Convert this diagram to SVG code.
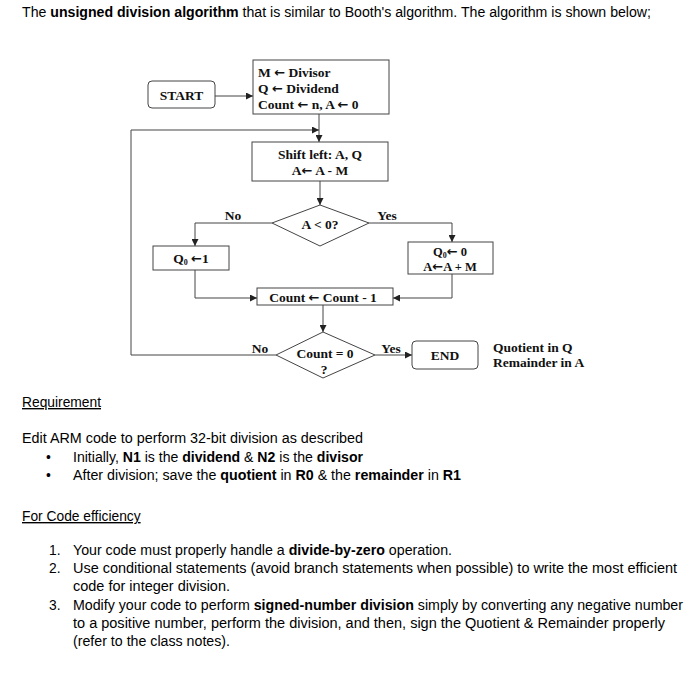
<svg xmlns="http://www.w3.org/2000/svg" width="700" height="700" viewBox="0 0 700 700">
<defs>
<style>
.bg{fill:#fff}
.box{fill:#fff;stroke:#444;stroke-width:1}
.ln{fill:none;stroke:#444;stroke-width:1}
.ft{font-family:"Liberation Serif","Times New Roman",serif;font-weight:bold;font-size:13.5px;fill:#111}
.sm{font-size:12.5px}
.ar{font-family:"DejaVu Sans",sans-serif;font-weight:bold;font-size:13px}
.bt{font-family:"Liberation Sans",Arial,sans-serif;font-size:13.8px;fill:#000}
.b{font-weight:bold}
.u{text-decoration:underline}
</style>
<marker id="ah" viewBox="0 0 10 10" refX="10" refY="5" markerWidth="7" markerHeight="7" orient="auto" markerUnits="userSpaceOnUse">
<path d="M0,0 L10,5 L0,10 z" fill="#222"/>
</marker>
</defs>
<rect class="bg" x="0" y="0" width="700" height="700"/>

<text class="bt" x="22" y="17" textLength="629" lengthAdjust="spacingAndGlyphs">The <tspan class="b">unsigned division algorithm</tspan> that is similar to Booth's algorithm. The algorithm is shown below;</text>

<g id="connectors">
<line class="ln" x1="215" y1="96" x2="253" y2="96" marker-end="url(#ah)"/>
<line class="ln" x1="319" y1="114" x2="319" y2="142" marker-end="url(#ah)"/>
<line class="ln" x1="320" y1="181" x2="320" y2="205" marker-end="url(#ah)"/>
<polyline class="ln" points="272,223 195,223 195,246" marker-end="url(#ah)"/>
<polyline class="ln" points="369,223 452,223 452,242" marker-end="url(#ah)"/>
<polyline class="ln" points="195,270 195,298 257,298" marker-end="url(#ah)"/>
<polyline class="ln" points="452,274 452,298 393,298" marker-end="url(#ah)"/>
<line class="ln" x1="323" y1="305" x2="323" y2="332" marker-end="url(#ah)"/>
<polyline class="ln" points="276,355 131,355 131,130 319,130" marker-end="url(#ah)"/>
<line class="ln" x1="375" y1="355" x2="412" y2="355" marker-end="url(#ah)"/>
<text class="ft" x="233" y="220" text-anchor="middle">No</text>
<text class="ft" x="387" y="220" text-anchor="middle">Yes</text>
<text class="ft" x="260" y="353" text-anchor="middle">No</text>
<text class="ft" x="391" y="353" text-anchor="middle">Yes</text>
</g>

<g id="start">
<rect class="box" x="148" y="81" width="67" height="27" rx="4"/>
<text class="ft" x="181.5" y="99.5" text-anchor="middle">START</text>
</g>

<g id="init">
<rect class="box" x="253" y="60" width="136" height="54"/>
<text class="ft" x="258" y="77">M <tspan class="ar">←</tspan> Divisor</text>
<text class="ft" x="258" y="93">Q <tspan class="ar">←</tspan> Dividend</text>
<text class="ft" x="258" y="109">Count <tspan class="ar">←</tspan> n, A <tspan class="ar">←</tspan> 0</text>
</g>

<g id="shift">
<rect class="box" x="252" y="142" width="136" height="39"/>
<text class="ft" x="320" y="159" text-anchor="middle">Shift left:  A, Q</text>
<text class="ft" x="320" y="175" text-anchor="middle">A<tspan class="ar">←</tspan> A - M</text>
</g>

<g id="decision1">
<polygon class="box" points="320,205 369,223 320,246 272,223"/>
<text class="ft" x="320" y="229" text-anchor="middle">A &lt; 0?</text>
</g>

<g id="q0one">
<rect class="box" x="153" y="246" width="76" height="24"/>
<text class="ft" x="191" y="263" text-anchor="middle">Q<tspan font-size="8" dy="2">0</tspan><tspan dy="-2"> </tspan><tspan class="ar">←</tspan>1</text>
</g>

<g id="q0zero">
<rect class="box" x="408" y="242" width="85" height="32"/>
<text class="ft sm" x="450" y="256" text-anchor="middle">Q<tspan font-size="8" dy="2">0</tspan><tspan class="ar" dy="-2">←</tspan> 0</text>
<text class="ft sm" x="450" y="271" text-anchor="middle">A<tspan class="ar">←</tspan>A + M</text>
</g>

<g id="count">
<rect class="box" x="257" y="288" width="136" height="17"/>
<text class="ft" x="323" y="301.5" text-anchor="middle">Count <tspan class="ar">←</tspan>  Count - 1</text>
</g>

<g id="decision2">
<polygon class="box" points="323,332 375,355 323,378 276,355"/>
<text class="ft" x="325" y="358" text-anchor="middle">Count = 0</text>
<text class="ft" x="324" y="374" text-anchor="middle">?</text>
</g>

<g id="end">
<rect class="box" x="412" y="341" width="66" height="28" rx="4"/>
<text class="ft" x="445" y="360" text-anchor="middle">END</text>
</g>

<g id="note">
<text class="ft" x="493" y="352">Quotient in Q</text>
<text class="ft" x="493" y="367">Remainder in A</text>
</g>

<g id="body">
<text class="bt u" x="22" y="407">Requirement</text>
<text class="bt" x="22" y="443" textLength="341" lengthAdjust="spacingAndGlyphs">Edit ARM code to perform 32-bit division as described</text>
<text class="bt" x="46" y="462">•</text>
<text class="bt" x="73" y="462" textLength="290" lengthAdjust="spacingAndGlyphs">Initially, <tspan class="b">N1</tspan> is the <tspan class="b">dividend</tspan> &amp; <tspan class="b">N2</tspan> is the <tspan class="b">divisor</tspan></text>
<text class="bt" x="46" y="480">•</text>
<text class="bt" x="73" y="480" textLength="388" lengthAdjust="spacingAndGlyphs">After division; save the  <tspan class="b">quotient</tspan> in <tspan class="b">R0</tspan> &amp; the <tspan class="b">remainder</tspan> in <tspan class="b">R1</tspan></text>

<text class="bt u" x="22" y="521">For Code efficiency</text>
<text class="bt" x="49" y="555">1.</text>
<text class="bt" x="73" y="555" textLength="379" lengthAdjust="spacingAndGlyphs">Your code must properly handle a <tspan class="b">divide-by-zero</tspan> operation.</text>
<text class="bt" x="49" y="573">2.</text>
<text class="bt" x="73" y="573" textLength="604" lengthAdjust="spacingAndGlyphs">Use conditional statements (avoid branch statements when possible) to write the most efficient</text>
<text class="bt" x="73" y="591" textLength="157" lengthAdjust="spacingAndGlyphs">code for integer division.</text>
<text class="bt" x="49" y="610">3.</text>
<text class="bt" x="73" y="610" textLength="610" lengthAdjust="spacingAndGlyphs">Modify your code to perform <tspan class="b">signed-number division</tspan> simply by converting any negative number</text>
<text class="bt" x="73" y="628" textLength="592" lengthAdjust="spacingAndGlyphs">to a positive number, perform the division, and then, sign the Quotient &amp; Remainder properly</text>
<text class="bt" x="73" y="646" textLength="157" lengthAdjust="spacingAndGlyphs">(refer to the class notes).</text>
</g>
</svg>
